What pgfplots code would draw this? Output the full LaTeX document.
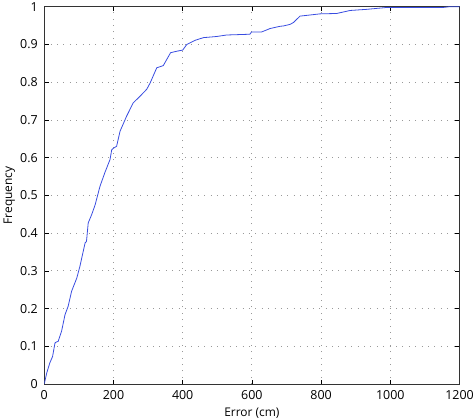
\documentclass[border=0pt]{standalone}
\usepackage{pgfplots}
\pgfplotsset{compat=1.18}
\usepackage{fontspec}
\setmainfont{Open Sans}
\definecolor{matblue}{rgb}{0.22,0.3,0.88}

\begin{document}
\begin{tikzpicture}[x=1bp,y=1bp]
  \begin{axis}[
      name=ax,
      scale only axis,
      width=415.5bp,
      height=377.6bp,
      xmin=0, xmax=1200,
      ymin=0, ymax=1,
      xtick={0,200,...,1200},
      ytick={0,0.1,...,1},
      yticklabels={0,0.1,0.2,0.3,0.4,0.5,0.6,0.7,0.8,0.9,1},
      /pgf/number format/1000 sep={},
      /pgf/number format/assume math mode=true,
      tick align=inside,
      tick pos=both,
      major tick length=4.5bp,
      tick style={black, line width=0.6pt},
      axis line style={black!80, line width=0.9pt},
      grid=major,
      major grid style={gray!80, dash pattern=on 0.9bp off 5.5bp, line width=0.8pt},
      tick label style={font=\fontsize{12.5}{14}\selectfont},
      xticklabel style={yshift=-3bp},
      yticklabel style={xshift=-3bp},
      label style={font=\fontsize{12}{14}\selectfont},
      xlabel={Error (cm)},
      ylabel={Frequency},
      xlabel style={at={(axis description cs:0.5,-0.0866)}, anchor=base},
      ylabel style={at={(axis description cs:-0.0777,0.5)}, anchor=base},
    ]
    \addplot[matblue, line width=0.8pt] coordinates {
      (0,0) (7,0.029) (16,0.056) (24,0.073) (31,0.109) (34,0.111) (40,0.113)
      (50,0.14) (60,0.184) (69,0.206) (79,0.246) (94,0.281) (103,0.312)
      (118,0.374) (122,0.378) (127,0.427) (137,0.449) (147,0.475) (151,0.489)
      (161,0.524) (175,0.560) (190,0.595) (195,0.621) (200,0.625) (209,0.630)
      (219,0.670) (238,0.710) (257,0.745) (277,0.763) (296,0.781) (306,0.798)
      (325,0.838) (344,0.844) (365,0.878) (383,0.882) (400,0.885) (412,0.900)
      (436,0.911) (460,0.918) (498,0.921) (527,0.925) (594,0.927) (599,0.933)
      (628,0.933) (647,0.940) (652,0.942) (681,0.948) (691,0.949) (710,0.953)
      (720,0.958) (739,0.975) (768,0.978) (797,0.981) (845,0.982) (884,0.990)
      (932,0.993) (990,0.998) (1153,0.998) (1172,1.0) (1200,1.0)
    };
  \end{axis}
  \pgfresetboundingbox
  \path ([shift={(-44.3bp,-35.7bp)}]ax.south west) rectangle ([shift={(14.5bp,6.7bp)}]ax.north east);
\end{tikzpicture}
\end{document}
